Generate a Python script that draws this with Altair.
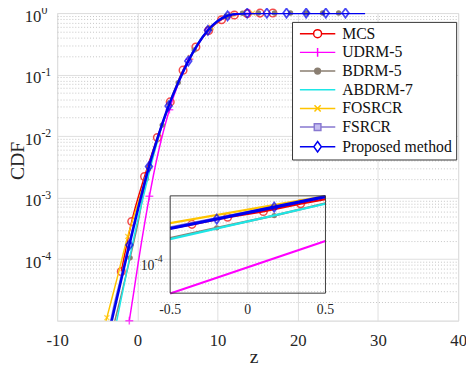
import math
import altair as alt
import pandas as pd

FONT = "Liberation Serif"
TXT = "#262626"

# ---------------- series definitions ----------------
series = ["MCS", "UDRM-5", "BDRM-5", "ABDRM-7", "FOSRCR", "FSRCR", "Proposed method"]
colors = ["#f00000", "#ff00ff", "#8a7f72", "#1ee6e6", "#ffc400", "#8878d0", "#0000f0"]
legend_fills = ["white", "transparent", "#8a7f72", "transparent", "transparent", "#c4bdf0", "white"]

# ---------------- main plot data ----------------
x_ticks = [-10, 0, 10, 20, 30, 40]
y_label_vals = [1e-4, 1e-3, 1e-2, 1e-1, 1.0]
y_label_base = ["10", "10", "10", "10", "10"]
y_label_exp = ["-4", "-3", "-2", "-1", "0"]

MCS_z = [-2.0, -0.7, 0.9, 2.5, 4.1, 5.7, 7.3, 8.9, 10.5, 12.1, 13.7, 15.3, 16.9]
MCS_p = [6.3e-5, 4.1e-4, 2.2e-3, 9.5e-3, 0.036, 0.118, 0.28, 0.52, 0.78, 0.93, 0.985, 0.998, 1.0]
MCS_mz = MCS_z

UDRM_z = [-1.0, -0.5, 0.0, 0.5, 1.0, 1.5, 2.0, 2.5, 3.0, 3.5, 4.0, 5.25, 6.5, 7.75, 9.0,
          10.25, 11.5, 12.75, 14.0]
UDRM_p = [1.0e-5, 2.63e-5, 7.1e-5, 1.82e-4, 4.47e-4, 1.05e-3, 2.29e-3, 4.68e-3, 8.9e-3,
          0.0158, 0.0269, 0.0794, 0.178, 0.339, 0.550, 0.759, 0.912, 0.977, 0.995]
UDRM_mz = [-1.0, 1.5, 4.0, 6.5, 9.0, 11.5, 14.0]

BDRM_z = [-2.9, -1.9, -0.9, 0.1, 1.1, 2.1, 3.1, 4.1, 5.1, 6.1, 7.1, 8.1, 9.1, 10.1, 11.1,
          12.1, 13.1, 14.1, 15.1, 17.1, 19.1, 21.1, 23.1, 25.1]
BDRM_p = [8.9e-6, 3.0e-5, 1.05e-4, 4.0e-4, 2.0e-3, 6.0e-3, 0.0151, 0.0347, 0.0741, 0.141,
          0.251, 0.398, 0.562, 0.741, 0.891, 0.964, 0.991, 0.998, 1, 1, 1, 1, 1, 1]
BDRM_mz = [-0.9, 1.1, 3.1, 5.1, 7.1, 9.1, 11.1, 13.1, 15.1, 17.1, 19.1, 21.1, 23.1, 25.1]

ABDRM_z = [-2.6, -2.0, -1.0, 0.0, 1.0, 2.0, 3.0, 4.0, 5.0, 6.0, 7.0, 8.0, 9.0, 10.0, 11.0,
           12.0, 13.0, 14.0, 16.0, 20.0, 26.0]
ABDRM_p = [9.5e-6, 2.3e-5, 1.0e-4, 4.0e-4, 1.41e-3, 4.7e-3, 0.0135, 0.0324, 0.0692, 0.135,
           0.245, 0.389, 0.562, 0.741, 0.891, 0.966, 0.991, 0.998, 1, 1, 1]

FOSRCR_z = [-4.1, -3.8, -2.5, -1.2, 0.1, 1.4, 2.7, 4.0, 5.3, 6.6, 7.9, 9.2, 10.5, 11.8,
            13.1, 14.4, 15.7, 20.9, 26.1]
FOSRCR_p = [7.9e-6, 1.12e-5, 5.0e-5, 2.34e-4, 8.3e-4, 3.0e-3, 0.0105, 0.0347, 0.087, 0.19,
            0.363, 0.589, 0.794, 0.933, 0.986, 0.998, 1, 1, 1]
FOSRCR_mz = [-3.8, -1.2, 1.4, 4.0, 6.6, 9.2, 11.8, 14.4]

FSRCR_z = [-3.4, -3.0, -2.0, -1.0, 0.0, 1.0, 2.0, 3.0, 4.0, 5.0, 6.0, 7.0, 8.0, 9.0, 10.0,
           11.0, 12.0, 13.0, 14.0, 16.0, 26.0]
FSRCR_p = [8.9e-6, 1.58e-5, 5.4e-5, 1.9e-4, 6.5e-4, 2.1e-3, 5.8e-3, 0.0145, 0.0331, 0.0692,
           0.135, 0.245, 0.389, 0.562, 0.741, 0.891, 0.966, 0.991, 0.998, 1, 1]

PROP_z = [-3.45, -2.225, -1.0, 0.225, 1.45, 2.675, 3.9, 5.125, 6.35, 7.575, 8.8, 10.025,
          11.25, 12.475, 13.7, 14.925, 16.15, 17.375, 18.6, 19.825, 21.05, 22.275, 23.5,
          24.725, 25.95, 27.175, 28.4]
PROP_p = [7.2e-6, 3.5e-5, 1.7e-4, 7.8e-4, 3.2e-3, 0.0107, 0.031, 0.076, 0.166, 0.316, 0.525,
          0.741, 0.902, 0.973, 0.995, 1, 1, 1, 1, 1, 1, 1, 1, 1, 1, 1, 1]
PROP_mz = [-1.0, 1.45, 3.9, 6.35, 8.8, 11.25, 13.7, 16.15, 18.6, 21.05, 23.5, 25.95]

# ---------------- inset data ----------------
inset_xlim = [-0.5, 0.5]
inset_ylim = [3.04e-5, 1.36e-3]
inset_xticks = [-0.5, 0.0, 0.5]
inset_xticklabels = ["-0.5", "0", "0.5"]
inset_yticks = [1e-4]
inset_ylabel_base = ["10"]
inset_ylabel_exp = ["-4"]

MCS_in_z = [-0.5, -0.36, -0.13, 0.1, 0.34, 0.5]
MCS_in_p = [3.8e-4, 4.47e-4, 5.89e-4, 7.41e-4, 1.0e-3, 1.2e-3]
MCS_in_mz = [-0.36, -0.13, 0.1, 0.34]
UDRM_in_z = [-0.5, 0.5]
UDRM_in_p = [3.0e-5, 2.34e-4]
BDRM_in_z = [-0.5, -0.2, 0.17, 0.5]
BDRM_in_p = [2.63e-4, 3.9e-4, 6.3e-4, 1.02e-3]
BDRM_in_mz = [-0.2, 0.17]
ABDRM_in_z = [-0.5, 0.5]
ABDRM_in_p = [2.51e-4, 1.0e-3]
FOSRCR_in_z = [-0.5, 0.5]
FOSRCR_in_p = [4.68e-4, 1.35e-3]
FSRCR_in_z = [-0.5, 0.5]
FSRCR_in_p = [3.98e-4, 1.32e-3]
PROP_in_z = [-0.5, -0.2, 0.17, 0.5]
PROP_in_p = [3.8e-4, 5.5e-4, 8.75e-4, 1.32e-3]
PROP_in_mz = [-0.2, 0.17]

# ---------------- layout ----------------
W, H = 408, 313
INSET_X_PX = (115, 273)
INSET_Y_PX = (186, 285)  # top, bottom

upp = (inset_xlim[1] - inset_xlim[0]) / (INSET_X_PX[1] - INSET_X_PX[0])
ix_dom = [inset_xlim[0] - INSET_X_PX[0] * upp, inset_xlim[1] + (W - INSET_X_PX[1]) * upp]
lt, lb = math.log10(inset_ylim[1]), math.log10(inset_ylim[0])
lpp = (lt - lb) / (INSET_Y_PX[1] - INSET_Y_PX[0])
iy_dom = [10 ** (lb - (H - INSET_Y_PX[1]) * lpp), 10 ** (lt + INSET_Y_PX[0] * lpp)]


def frame(z, p, mz=()):
    ms = {round(v, 4) for v in mz}
    return pd.DataFrame({"z": z, "p": p, "m": [round(v, 4) in ms for v in z]})


# ---------------- encodings ----------------
LOG10 = "(log(datum.value)/LN10)"
MAJOR = f"abs({LOG10} - round({LOG10})) < 0.01"
y_values = [m * 10.0 ** e for e in range(-5, 0) for m in range(1, 10)] + [1.0]

X_MAIN = alt.X(
    "z:Q",
    scale=alt.Scale(domain=[-10, 40], nice=False, zero=False),
    axis=alt.Axis(values=x_ticks, title="z", labelExpr="toString(datum.value)",
                  labelFont=FONT, labelFontSize=17, labelColor=TXT,
                  labelPadding=12, labelFlush=False, ticks=False, domain=False, grid=True,
                  gridColor="#dedede", titleFont=FONT, titleFontSize=20, titleFontWeight="normal",
                  titleColor=TXT, titleX=200, titleY=43, titleBaseline="alphabetic"),
)
Y_MAIN = alt.Y(
    "p:Q",
    scale=alt.Scale(type="log", domain=[1e-5, 1], nice=False),
    axis=alt.Axis(values=y_values, labels=False, title="CDF",
                  ticks=False, domain=False, grid=True,
                  gridDash=alt.condition(MAJOR, alt.value([]), alt.value([1, 2])),
                  gridColor=alt.condition(MAJOR, alt.value("#dedede"), alt.value("#c4c4c4")),
                  titleFont=FONT, titleFontSize=20, titleFontWeight="normal", titleColor=TXT,
                  titleX=-40, titleY=150, titleBaseline="middle", titleAlign="center"),
)
X_IN = alt.X("z:Q", scale=alt.Scale(domain=ix_dom, nice=False, zero=False), axis=None)
Y_IN = alt.Y("p:Q", scale=alt.Scale(type="log", domain=iy_dom, nice=False), axis=None)

P_PLUS = "M-1,0H1M0,-1V1"
P_X = "M-1,-1L1,1M-1,1L1,-1"
P_DIAM = "M0,-1.17L0.85,0L0,1.17L-0.85,0Z"

markers = {
    "MCS": dict(shape="circle", filled=False, size=60, strokeWidth=1.5),
    "UDRM-5": dict(shape=P_PLUS, filled=False, size=64, strokeWidth=1.5),
    "BDRM-5": dict(shape="circle", filled=True, size=30, opacity=1),
    "FOSRCR": dict(shape=P_X, filled=False, size=25, strokeWidth=1.3),
    "Proposed method": dict(shape=P_DIAM, filled=False, size=64, strokeWidth=1.8),
}

main_data = {
    "MCS": frame(MCS_z, MCS_p, MCS_mz),
    "UDRM-5": frame(UDRM_z, UDRM_p, UDRM_mz),
    "BDRM-5": frame(BDRM_z, BDRM_p, BDRM_mz),
    "ABDRM-7": frame(ABDRM_z, ABDRM_p),
    "FOSRCR": frame(FOSRCR_z, FOSRCR_p, FOSRCR_mz),
    "FSRCR": frame(FSRCR_z, FSRCR_p),
    "Proposed method": frame(PROP_z, PROP_p, PROP_mz),
}
inset_data = {
    "MCS": frame(MCS_in_z, MCS_in_p, MCS_in_mz),
    "UDRM-5": frame(UDRM_in_z, UDRM_in_p),
    "BDRM-5": frame(BDRM_in_z, BDRM_in_p, BDRM_in_mz),
    "ABDRM-7": frame(ABDRM_in_z, ABDRM_in_p),
    "FOSRCR": frame(FOSRCR_in_z, FOSRCR_in_p),
    "FSRCR": frame(FSRCR_in_z, FSRCR_in_p),
    "Proposed method": frame(PROP_in_z, PROP_in_p, PROP_in_mz),
}
draw_order = ["MCS", "UDRM-5", "BDRM-5", "ABDRM-7", "FSRCR", "FOSRCR", "Proposed method"]

main_layers = []
inset_layers = []

# y tick labels of the main axis (10 with raised exponent)
ylab_df = pd.DataFrame({"p": y_label_vals, "base": y_label_base, "exp": y_label_exp})
main_layers.append(alt.Chart(ylab_df).mark_text(font=FONT, fontSize=17, color=TXT, align="right",
                                                baseline="middle", dx=-16, dy=4).encode(
    x=alt.value(0), y=Y_MAIN, text="base:N"))
main_layers.append(alt.Chart(ylab_df).mark_text(font=FONT, fontSize=12, color=TXT, align="left",
                                                baseline="middle", dx=-16, dy=-3).encode(
    x=alt.value(0), y=Y_MAIN, text="exp:N"))

frame_df = pd.DataFrame({"x0": [inset_xlim[0]], "x1": [inset_xlim[1]],
                         "y0": [inset_ylim[0]], "y1": [inset_ylim[1]]})
grid_df = pd.DataFrame({"x0": [inset_xticks[1]], "y0": [inset_ylim[0]], "y1": [inset_ylim[1]]})
inset_layers.append(alt.Chart(grid_df).mark_rule(color="#d6d6d6", strokeWidth=1).encode(
    x=alt.X("x0:Q", scale=alt.Scale(domain=ix_dom, nice=False, zero=False), axis=None),
    y=alt.Y("y0:Q", scale=alt.Scale(type="log", domain=iy_dom, nice=False), axis=None),
    y2="y1"))

for s in draw_order:
    col = colors[series.index(s)]
    df = main_data[s]
    wd = 2.6 if s == "Proposed method" else 1.5
    main_layers.append(alt.Chart(df).mark_line(color=col, strokeWidth=wd, clip=True,
                                               interpolate="monotone").encode(x=X_MAIN, y=Y_MAIN))
    if s in markers and df["m"].any():
        main_layers.append(alt.Chart(df[df["m"]]).mark_point(color=col, **markers[s]).encode(
            x=X_MAIN, y=Y_MAIN))
    di = inset_data[s]
    wi = 3.2 if s == "Proposed method" else 2.2
    inset_layers.append(alt.Chart(di).mark_line(color=col, strokeWidth=wi).encode(x=X_IN, y=Y_IN))
    if s in markers and di["m"].any():
        inset_layers.append(alt.Chart(di[di["m"]]).mark_point(color=col, **markers[s]).encode(
            x=X_IN, y=Y_IN))

inset_layers.append(alt.Chart(frame_df).mark_rect(fillOpacity=0, stroke="#3a3a3a",
                                                  strokeWidth=1).encode(
    x=alt.X("x0:Q", scale=alt.Scale(domain=ix_dom, nice=False, zero=False), axis=None),
    x2="x1",
    y=alt.Y("y0:Q", scale=alt.Scale(type="log", domain=iy_dom, nice=False), axis=None),
    y2="y1"))

xt_df = pd.DataFrame({"z": inset_xticks, "p": [inset_ylim[0]] * len(inset_xticks),
                      "label": inset_xticklabels})
yt_df = pd.DataFrame({"z": [inset_xlim[0]] * len(inset_yticks), "p": inset_yticks,
                      "base": inset_ylabel_base, "exp": inset_ylabel_exp})
inset_layers.append(alt.Chart(xt_df).mark_text(font=FONT, fontSize=14, color=TXT, dy=17,
                                               baseline="middle", align="center").encode(
    x=X_IN, y=Y_IN, text="label:N"))
inset_layers.append(alt.Chart(yt_df).mark_text(font=FONT, fontSize=14, color=TXT, dx=-16, dy=3,
                                               baseline="middle", align="right").encode(
    x=X_IN, y=Y_IN, text="base:N"))
inset_layers.append(alt.Chart(yt_df).mark_text(font=FONT, fontSize=10, color=TXT, dx=-16, dy=-4,
                                               baseline="middle", align="left").encode(
    x=X_IN, y=Y_IN, text="exp:N"))

# legend layer
legend_paths = [
    "M-4,0H-0.9M0.9,0H4M0.9,0A0.9,0.9 0 1,1 -0.9,0A0.9,0.9 0 1,1 0.9,0Z",
    "M-4,0H4M0,-1V1",
    "M-4,0H4M0.65,0A0.65,0.65 0 1,1 -0.65,0A0.65,0.65 0 1,1 0.65,0Z",
    "M-4,0H4",
    "M-4,0H4M-0.7,-0.7L0.7,0.7M-0.7,0.7L0.7,-0.7",
    "M-4,0H-0.75M0.75,0H4M-0.75,-0.75H0.75V0.75H-0.75Z",
    "M-4,0H-0.85M0.85,0H4M0,-1.17L0.85,0L0,1.17L-0.85,0Z",
]
LEG = alt.Legend(orient="none", legendX=239, legendY=9, title=None, labelFont=FONT,
                 labelFontSize=16, labelColor="#111111", symbolSize=81, symbolStrokeWidth=1.5,
                 symbolOffset=14, labelOffset=17, rowPadding=3, padding=4,
                 strokeColor="#333333", fillColor="white", symbolOpacity=1, labelLimit=300)
legend_df = pd.DataFrame({"series": series})
main_layers.append(alt.Chart(legend_df).mark_point(opacity=0, filled=True, size=81,
                                                   strokeWidth=1.5).encode(
    shape=alt.Shape("series:N", scale=alt.Scale(domain=series, range=legend_paths),
                    legend=LEG, sort=series),
    stroke=alt.Stroke("series:N", scale=alt.Scale(domain=series, range=colors),
                      legend=LEG, sort=series),
    fill=alt.Fill("series:N", scale=alt.Scale(domain=series, range=legend_fills),
                  legend=LEG, sort=series),
))

main = alt.layer(*main_layers)
inset = alt.layer(*inset_layers)

chart = (
    alt.layer(main, inset)
    .resolve_scale(x="independent", y="independent")
    .properties(width=W, height=H, autosize=alt.AutoSizeParams(type="none"),
                padding={"left": 50, "top": 2, "right": 8, "bottom": 46})
    .configure_view(stroke="#4d4d4d", strokeWidth=1)
    .configure_axis(labelFont=FONT, titleFont=FONT)
    .configure_legend(labelFont=FONT)
    .configure_text(font=FONT)
    .configure(background="white", font=FONT)
)

chart.save("out.html", embed_options={"renderer": "svg", "actions": False})
